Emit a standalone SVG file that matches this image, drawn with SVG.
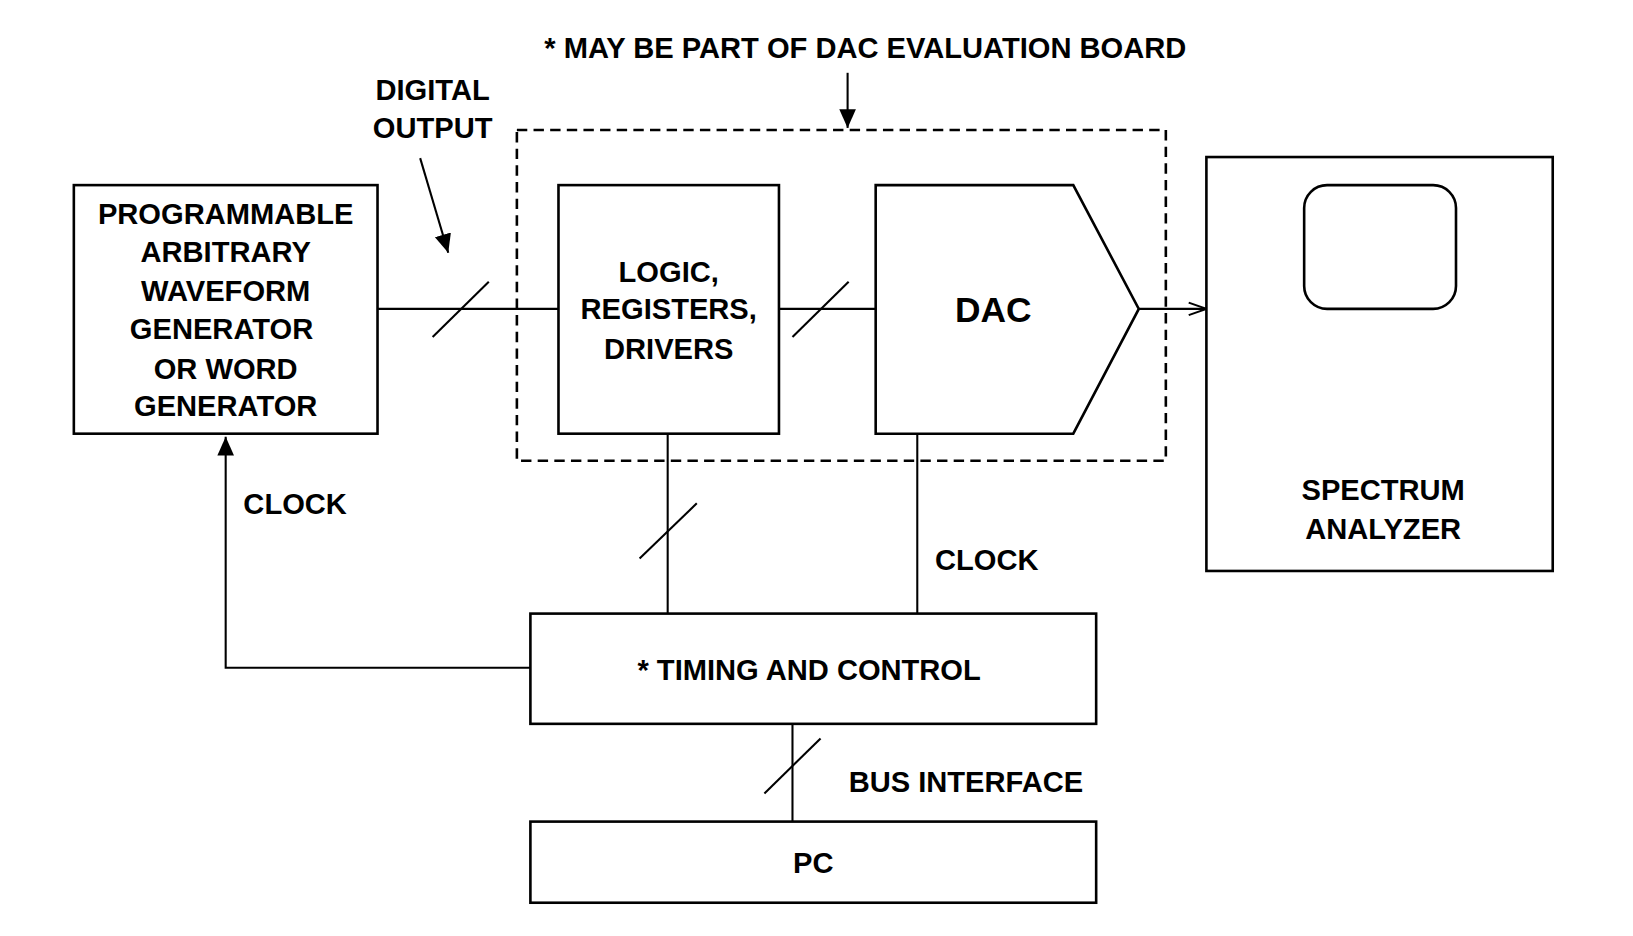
<svg xmlns="http://www.w3.org/2000/svg" width="1633" height="936" viewBox="0 0 1633 936">
<style>
.b{fill:none;stroke:#000;stroke-width:2.5}
.l{fill:none;stroke:#000;stroke-width:2}
text{font-family:"Liberation Sans",Arial,sans-serif;font-weight:bold;font-size:28px;fill:#000;text-anchor:middle}
.s{text-anchor:start}
</style>
<defs>
<marker id="open" viewBox="0 0 20 20" refX="19" refY="10" markerWidth="20" markerHeight="20" markerUnits="userSpaceOnUse" orient="auto"><path d="M2,4 L19,10 L2,16" fill="none" stroke="#000" stroke-width="2"/></marker>
<marker id="fill" viewBox="0 0 20 20" refX="18" refY="10" markerWidth="20" markerHeight="20" markerUnits="userSpaceOnUse" orient="auto"><path d="M0,2 L18,10 L0,18 Z" fill="#000"/></marker>
</defs>
<rect width="1633" height="936" fill="#fff"/>
<g transform="scale(1.04)">
<g id="board"><rect x="497" y="125" width="624" height="318" fill="none" stroke="#000" stroke-width="2.5" stroke-dasharray="10,6"/>
<text x="832" y="56">* MAY BE PART OF DAC EVALUATION BOARD</text></g>
<g id="gen"><rect class="b" x="71" y="178" width="292" height="239"/>
<text x="217" y="215">PROGRAMMABLE</text><text x="217" y="252">ARBITRARY</text><text x="217" y="289">WAVEFORM</text><text x="213" y="326">GENERATOR</text><text x="217" y="364">OR WORD</text><text x="217" y="400">GENERATOR</text></g>
<g id="logic"><rect class="b" x="537" y="178" width="212" height="239"/>
<text x="643" y="271">LOGIC,</text><text x="643" y="307">REGISTERS,</text><text x="643" y="345">DRIVERS</text></g>
<g id="dac"><path class="b" d="M842,178 H1032 L1095,297 L1032,417 H842 Z"/><text x="955" y="310" style="font-size:34px">DAC</text></g>
<g id="sa"><rect class="b" x="1160" y="151" width="333" height="398"/><rect class="b" x="1254" y="178" width="146" height="119" rx="22"/>
<text x="1330" y="481">SPECTRUM</text><text x="1330" y="518">ANALYZER</text></g>
<g id="timing"><rect class="b" x="510" y="590" width="544" height="106"/><text x="778" y="654">* TIMING AND CONTROL</text></g>
<g id="pc"><rect class="b" x="510" y="790" width="544" height="78"/><text x="782" y="839">PC</text></g>
<g id="labels">
<text x="416" y="96">DIGITAL</text><text x="416" y="133">OUTPUT</text>
<text class="s" x="234" y="494">CLOCK</text>
<text class="s" x="899" y="548">CLOCK</text>
<text class="s" x="816" y="762">BUS INTERFACE</text>
</g>
<g id="connectors">
<line class="l" x1="363" y1="297" x2="537" y2="297"/><line class="l" x1="416" y1="324" x2="470" y2="271"/>
<line class="l" x1="749" y1="297" x2="842" y2="297"/><line class="l" x1="762" y1="324" x2="816" y2="271"/>
<line class="l" x1="1095" y1="297" x2="1160" y2="297" marker-end="url(#open)"/>
<line class="l" x1="642" y1="417" x2="642" y2="590"/><line class="l" x1="615" y1="537" x2="670" y2="484"/>
<line class="l" x1="882" y1="417" x2="882" y2="590"/>
<line class="l" x1="762" y1="696" x2="762" y2="790"/><line class="l" x1="735" y1="763" x2="789" y2="710"/>
<polyline class="l" points="510,642 217,642 217,420" marker-end="url(#fill)"/>
<line class="l" x1="815" y1="70" x2="815" y2="123" marker-end="url(#fill)"/>
<line class="l" x1="404" y1="152" x2="431" y2="243" marker-end="url(#fill)"/>
</g>
</g>
</svg>
